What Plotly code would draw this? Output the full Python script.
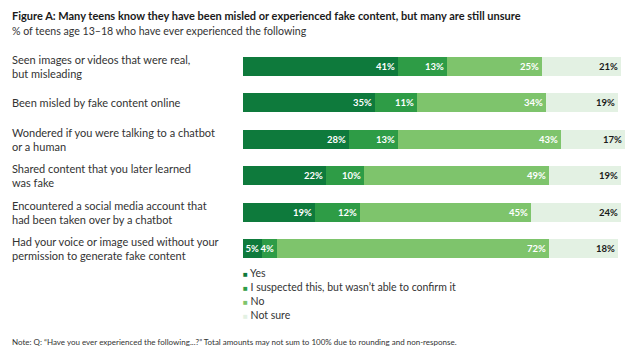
import plotly.graph_objects as go

categories = [
    "Seen images or videos that were real,<br>but misleading",
    "Been misled by fake content online",
    "Wondered if you were talking to a chatbot<br>or a human",
    "Shared content that you later learned<br>was fake",
    "Encountered a social media account that<br>had been taken over by a chatbot",
    "Had your voice or image used without your<br>permission to generate fake content",
]
series_names = ["Yes", "I suspected this, but wasn't able to confirm it", "No", "Not sure"]
yes = [41, 35, 28, 22, 19, 5]
suspected = [13, 11, 13, 10, 12, 4]
no = [25, 34, 43, 49, 45, 72]
not_sure = [21, 19, 17, 19, 24, 18]
series_values = [yes, suspected, no, not_sure]
colors = ["#0e7a3c", "#2e9c46", "#7ec46c", "#e3f1e3"]
text_colors = ["white", "white", "white", "#1a1a1a"]

FONT = "Lato"
W, H = 638, 356
ML, MR, MT, MB = 243, 11, 48, 89

fig = go.Figure()
ypos = list(range(len(categories)))
for name, vals, col, tcol in zip(series_names, series_values, colors, text_colors):
    fig.add_trace(go.Bar(
        y=ypos, x=vals, orientation="h", name=name,
        marker=dict(color=col, line=dict(width=0)),
        text=[f"{v}%" for v in vals], textposition="inside", textangle=0,
        insidetextanchor="end", constraintext="none",
        textfont=dict(family=FONT, size=9.5, color=tcol, weight="bold"),
        width=0.52, showlegend=False, hoverinfo="skip",
    ))

pw = W - ML - MR
ph = H - MT - MB
annotations = []
# category labels (left aligned)
for i, c in enumerate(categories):
    annotations.append(dict(
        x=(10 - ML) / pw, xref="paper", y=i, yref="y", text=c, showarrow=False,
        xanchor="left", yanchor="middle", align="left",
        font=dict(family=FONT, size=11, color="#333333"),
    ))
# legend built from series names/colors
leg_y0 = 273
for k, (name, col) in enumerate(zip(series_names, colors)):
    yy = leg_y0 + k * 14
    annotations.append(dict(
        x=(241 - ML) / pw, xref="paper", y=1 - (yy - MT) / ph, yref="paper",
        text=f"<span style='color:{col};font-size:8px'>■</span> " + name.replace("'", "’"), showarrow=False,
        xanchor="left", yanchor="middle", align="left",
        font=dict(family=FONT, size=10.5, color="#333333"),
    ))
# title, subtitle, note
annotations.append(dict(x=(10 - ML) / pw, xref="paper", y=1 + (MT - 15) / ph, yref="paper",
    text="<b>Figure A: Many teens know they have been misled or experienced fake content, but many are still unsure</b>",
    showarrow=False, xanchor="left", yanchor="middle", font=dict(family=FONT, size=11, color="#1a1a1a")))
annotations.append(dict(x=(10 - ML) / pw, xref="paper", y=1 + (MT - 31) / ph, yref="paper",
    text="% of teens age 13–18 who have ever experienced the following",
    showarrow=False, xanchor="left", yanchor="middle", font=dict(family=FONT, size=10.6, color="#333333")))
annotations.append(dict(x=(10 - ML) / pw, xref="paper", y=1 - (342 - MT) / ph, yref="paper",
    text="Note: Q: “Have you ever experienced the following...?” Total amounts may not sum to 100% due to rounding and non-response.",
    showarrow=False, xanchor="left", yanchor="middle", font=dict(family=FONT, size=8, color="#333333")))

fig.update_layout(
    barmode="stack", width=W, height=H,
    margin=dict(l=ML, r=MR, t=MT, b=MB, pad=0),
    paper_bgcolor="white", plot_bgcolor="white",
    xaxis=dict(range=[0, 101.5], visible=False, fixedrange=True),
    yaxis=dict(range=[len(categories) - 0.5, -0.5], visible=False, fixedrange=True),
    annotations=annotations, bargap=0,
    font=dict(family=FONT),
)
fig.write_html("out.html", config={"displayModeBar": False},
               post_script="document.body.style.margin='0';document.body.style.overflow='hidden';")
